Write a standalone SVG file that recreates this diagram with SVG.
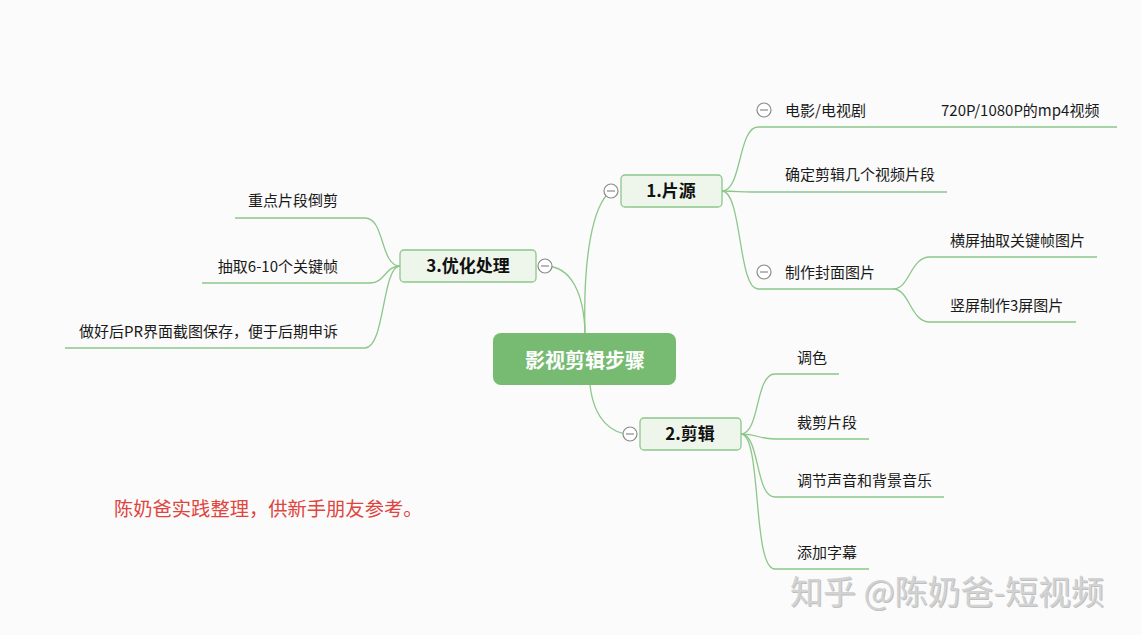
<svg xmlns="http://www.w3.org/2000/svg" width="1141" height="635" viewBox="0 0 1141 635">
<style>
.bg{fill:#fbfbfb}
.con{fill:none;stroke:#8cc78a;stroke-width:1.3}
.sub{fill:#eef6ec;stroke:#8cc78a;stroke-width:1.3}
.root{fill:#77bb73}
.t{font-family:"Noto Sans CJK SC","Noto Sans",sans-serif;font-size:15px;fill:#1a1a1a}
.tb{font-family:"Noto Sans CJK SC","Noto Sans",sans-serif;font-size:17px;font-weight:bold;fill:#111;text-anchor:middle}
.tr{font-family:"Noto Sans CJK SC","Noto Sans",sans-serif;font-size:20px;font-weight:bold;fill:#fff;text-anchor:middle}
.red{font-family:"Noto Sans CJK SC","Noto Sans",sans-serif;font-size:19.3px;fill:#e0443e}
.wm{font-family:"Noto Sans CJK SC","Noto Sans",sans-serif;font-size:33px}
.col{fill:#fff;stroke:#8a8a8a;stroke-width:1.2}
.colm{stroke:#8a8a8a;stroke-width:1.2}
</style>
<defs>
<g id="collapse"><circle class="col" r="7"/><line class="colm" x1="-4" y1="0" x2="4" y2="0"/></g>
</defs>
<rect class="bg" x="0" y="0" width="1141" height="635"/>
<g id="connectors">
<path class="con" d="M585,333 C583,260 592,205 611,191"/>
<path class="con" d="M585,333 C584,295 572,266 545,266"/>
<path class="con" d="M590,385 C594,420 612,434 630,434"/>
<path class="con" d="M722,191 C742,191 738,127 758,127 L1117,127"/>
<path class="con" d="M722,191 C738,191 738,192 752,192 L947,192"/>
<path class="con" d="M722,191 C742,191 738,289 758,289 L893,289"/>
<path class="con" d="M893,289 C910,289 910,257 930,257 L1097,257"/>
<path class="con" d="M893,289 C910,289 910,322 930,322 L1076,322"/>
<path class="con" d="M400,266 C380,266 385,218 365,218 L235,218"/>
<path class="con" d="M400,266 C385,266 385,283 370,283 L202,283"/>
<path class="con" d="M400,266 C382,266 385,348 365,348 L65,348"/>
<path class="con" d="M741,434 C760,434 755,374 775,374 L839,374"/>
<path class="con" d="M741,434 C758,434 758,439 775,439 L869,439"/>
<path class="con" d="M741,434 C760,434 755,497 775,497 L944,497"/>
<path class="con" d="M741,434 C762,434 752,569 775,569 L869,569"/>
</g>
<g id="root">
<rect class="root" x="493" y="333" width="183" height="52" rx="8"/>
<text class="tr" x="585" y="368">影视剪辑步骤</text>
</g>
<g id="n1">
<rect class="sub" x="621" y="175" width="101" height="32" rx="4"/>
<text class="tb" x="671" y="197">1.片源</text>
<use href="#collapse" x="611" y="191"/>
</g>
<g id="n2">
<rect class="sub" x="640" y="418" width="101" height="32" rx="4"/>
<text class="tb" x="690" y="440">2.剪辑</text>
<use href="#collapse" x="630" y="434"/>
</g>
<g id="n3">
<rect class="sub" x="400" y="250" width="136" height="32" rx="4"/>
<text class="tb" x="468" y="272">3.优化处理</text>
<use href="#collapse" x="545" y="266"/>
</g>
<g id="n1a">
<use href="#collapse" x="764" y="110"/>
<text class="t" x="785" y="116">电影/电视剧</text>
</g>
<g id="n1a1"><text class="t" x="941" y="116">720P/1080P的mp4视频</text></g>
<g id="n1b"><text class="t" x="785" y="180">确定剪辑几个视频片段</text></g>
<g id="n1c">
<use href="#collapse" x="764" y="272"/>
<text class="t" x="785" y="278">制作封面图片</text>
</g>
<g id="n1c1"><text class="t" x="950" y="246">横屏抽取关键帧图片</text></g>
<g id="n1c2"><text class="t" x="950" y="311">竖屏制作3屏图片</text></g>
<g id="n3a"><text class="t" x="338" y="206" text-anchor="end">重点片段倒剪</text></g>
<g id="n3b"><text class="t" x="338" y="272" text-anchor="end">抽取6-10个关键帧</text></g>
<g id="n3c"><text class="t" x="338" y="337" text-anchor="end">做好后PR界面截图保存，便于后期申诉</text></g>
<g id="n2a"><text class="t" x="797" y="363">调色</text></g>
<g id="n2b"><text class="t" x="797" y="428">裁剪片段</text></g>
<g id="n2c"><text class="t" x="797" y="486">调节声音和背景音乐</text></g>
<g id="n2d"><text class="t" x="797" y="558">添加字幕</text></g>
<g id="note"><text class="red" x="114" y="516">陈奶爸实践整理，供新手朋友参考。</text></g>
<g id="watermark">
<text class="wm" x="791" y="605" fill="#a8a8a8" opacity="0.7">知乎 @陈奶爸-短视频</text>
<text class="wm" x="790" y="604" fill="#d2d2d2">知乎 @陈奶爸-短视频</text>
</g>
</svg>
